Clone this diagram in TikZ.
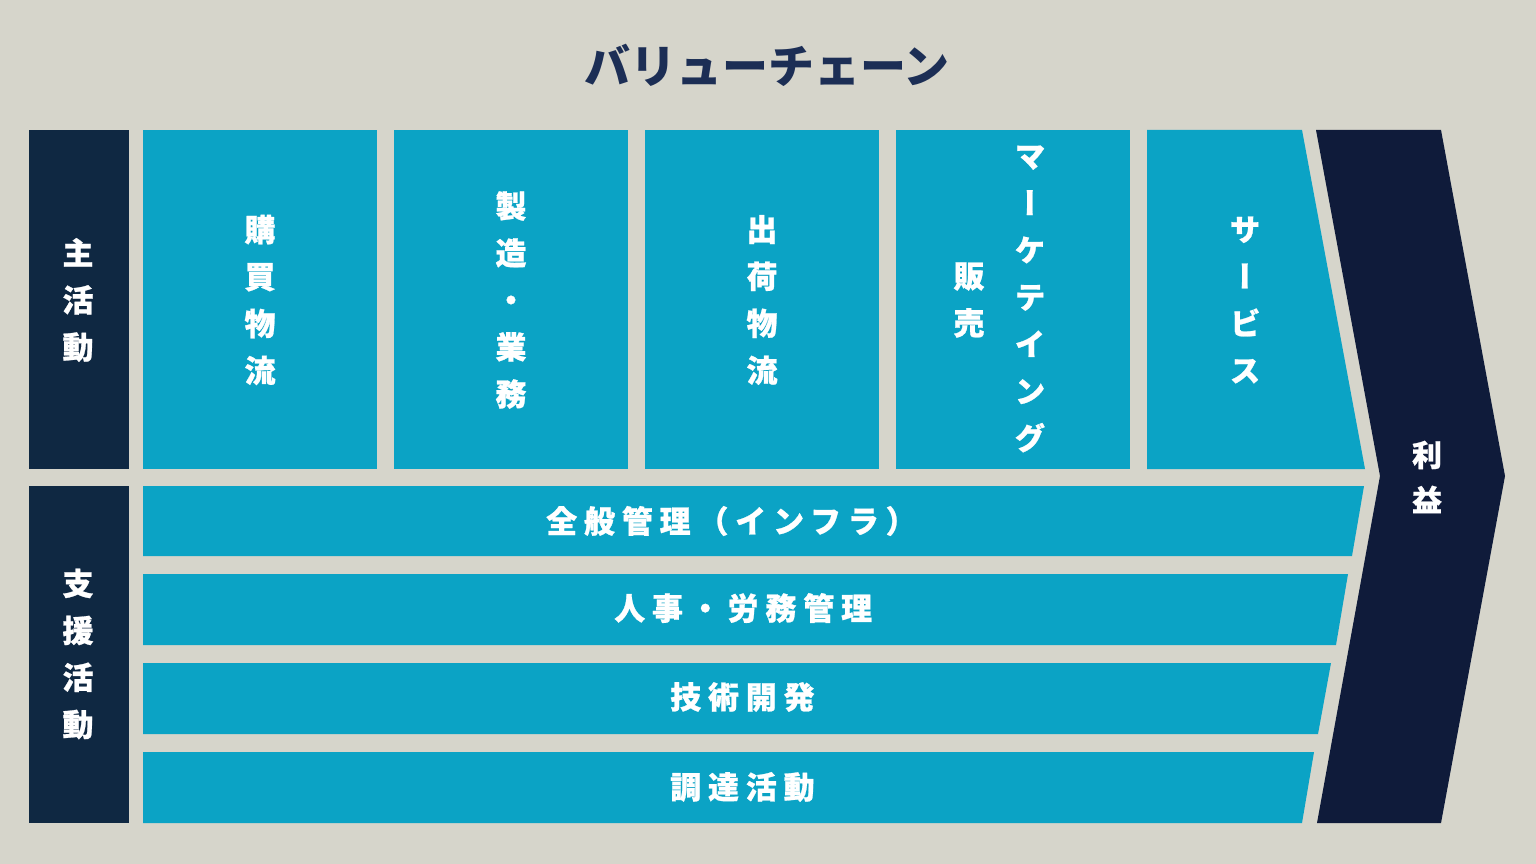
\documentclass[tikz,border=0pt]{standalone}
\usepackage{fontspec}
\newfontfamily\jp{Noto Sans CJK JP}
\newfontfamily\jpv{Noto Sans CJK JP}[RawFeature=+vert, BoldFeatures={FakeBold=0.8}]
\newfontfamily\jph{Noto Sans CJK JP}[LetterSpace=22, BoldFeatures={FakeBold=0.8}]
\definecolor{bgc}{HTML}{D6D5CB}
\definecolor{bluec}{HTML}{0BA3C5}
\definecolor{navyl}{HTML}{0F2842}
\definecolor{navya}{HTML}{0F1B3A}
\definecolor{titlec}{HTML}{1C2E55}
\tikzset{
  vtext/.style={text=white, align=center, inner sep=0pt, font=\jpv\bfseries\fontsize{31}{47}\selectfont},
  htext/.style={text=white, anchor=west, inner sep=0pt, font=\jph\bfseries\fontsize{31}{40}\selectfont},
  bluefill/.style={fill=bluec},
}
\begin{document}
\begin{tikzpicture}[x=1pt,y=-1pt]
\useasboundingbox (0,0) rectangle (1536,864);
\fill[bgc] (0,0) rectangle (1536,864);

\node[text=titlec, font=\jp\bfseries\fontsize{46}{52}\selectfont, inner sep=0pt] (title) at (767,65) {バリューチェーン};

% left labels
\fill[navyl] (29,130) rectangle (129,469);
\fill[navyl] (29,486) rectangle (129,823);
\node[vtext] (main) at (78,300) {主\\活\\動};
\node[vtext] (support) at (78,654) {支\\援\\活\\動};

% primary activities
\fill[bluefill] (143,130) rectangle (377,469);
\fill[bluefill] (394,130) rectangle (628,469);
\fill[bluefill] (645,130) rectangle (879,469);
\fill[bluefill] (896,130) rectangle (1130,469);
\fill[bluefill] (1147,130) -- (1302,130) -- (1365,469) -- (1147,469) -- cycle;
\node[vtext] (p1) at (260,300) {購\\買\\物\\流};
\node[vtext] (p2) at (511,300) {製\\造\\・\\業\\務};
\node[vtext] (p3) at (762,300) {出\\荷\\物\\流};
\node[vtext] (p4a) at (1030,299) {マ\\ー\\ケ\\テ\\イ\\ン\\グ};
\node[vtext] (p4b) at (969,300) {販\\売};
\node[vtext] (p5) at (1245,300) {サ\\ー\\ビ\\ス};

% support activities
\fill[bluefill] (143,486) -- (1364,486) -- (1352,556) -- (143,556) -- cycle;
\fill[bluefill] (143,574) -- (1348,574) -- (1336,645) -- (143,645) -- cycle;
\fill[bluefill] (143,663) -- (1331,663) -- (1318,734) -- (143,734) -- cycle;
\fill[bluefill] (143,752) -- (1314,752) -- (1302,823) -- (143,823) -- cycle;
\node[htext] (s1) at (546,521) {全般管理（インフラ）};
\node[htext] (s2) at (614,608) {人事・労務管理};
\node[htext] (s3) at (670,697) {技術開発};
\node[htext] (s4) at (670,787) {調達活動};

% margin arrow
\fill[navya] (1316,130) -- (1441,130) -- (1505,476) -- (1441,823) -- (1317,823) -- (1380,476) -- cycle;
\node[vtext, font=\jpv\bfseries\fontsize{30}{45}\selectfont] (profit) at (1427,477) {利\\益};
\end{tikzpicture}
\end{document}
